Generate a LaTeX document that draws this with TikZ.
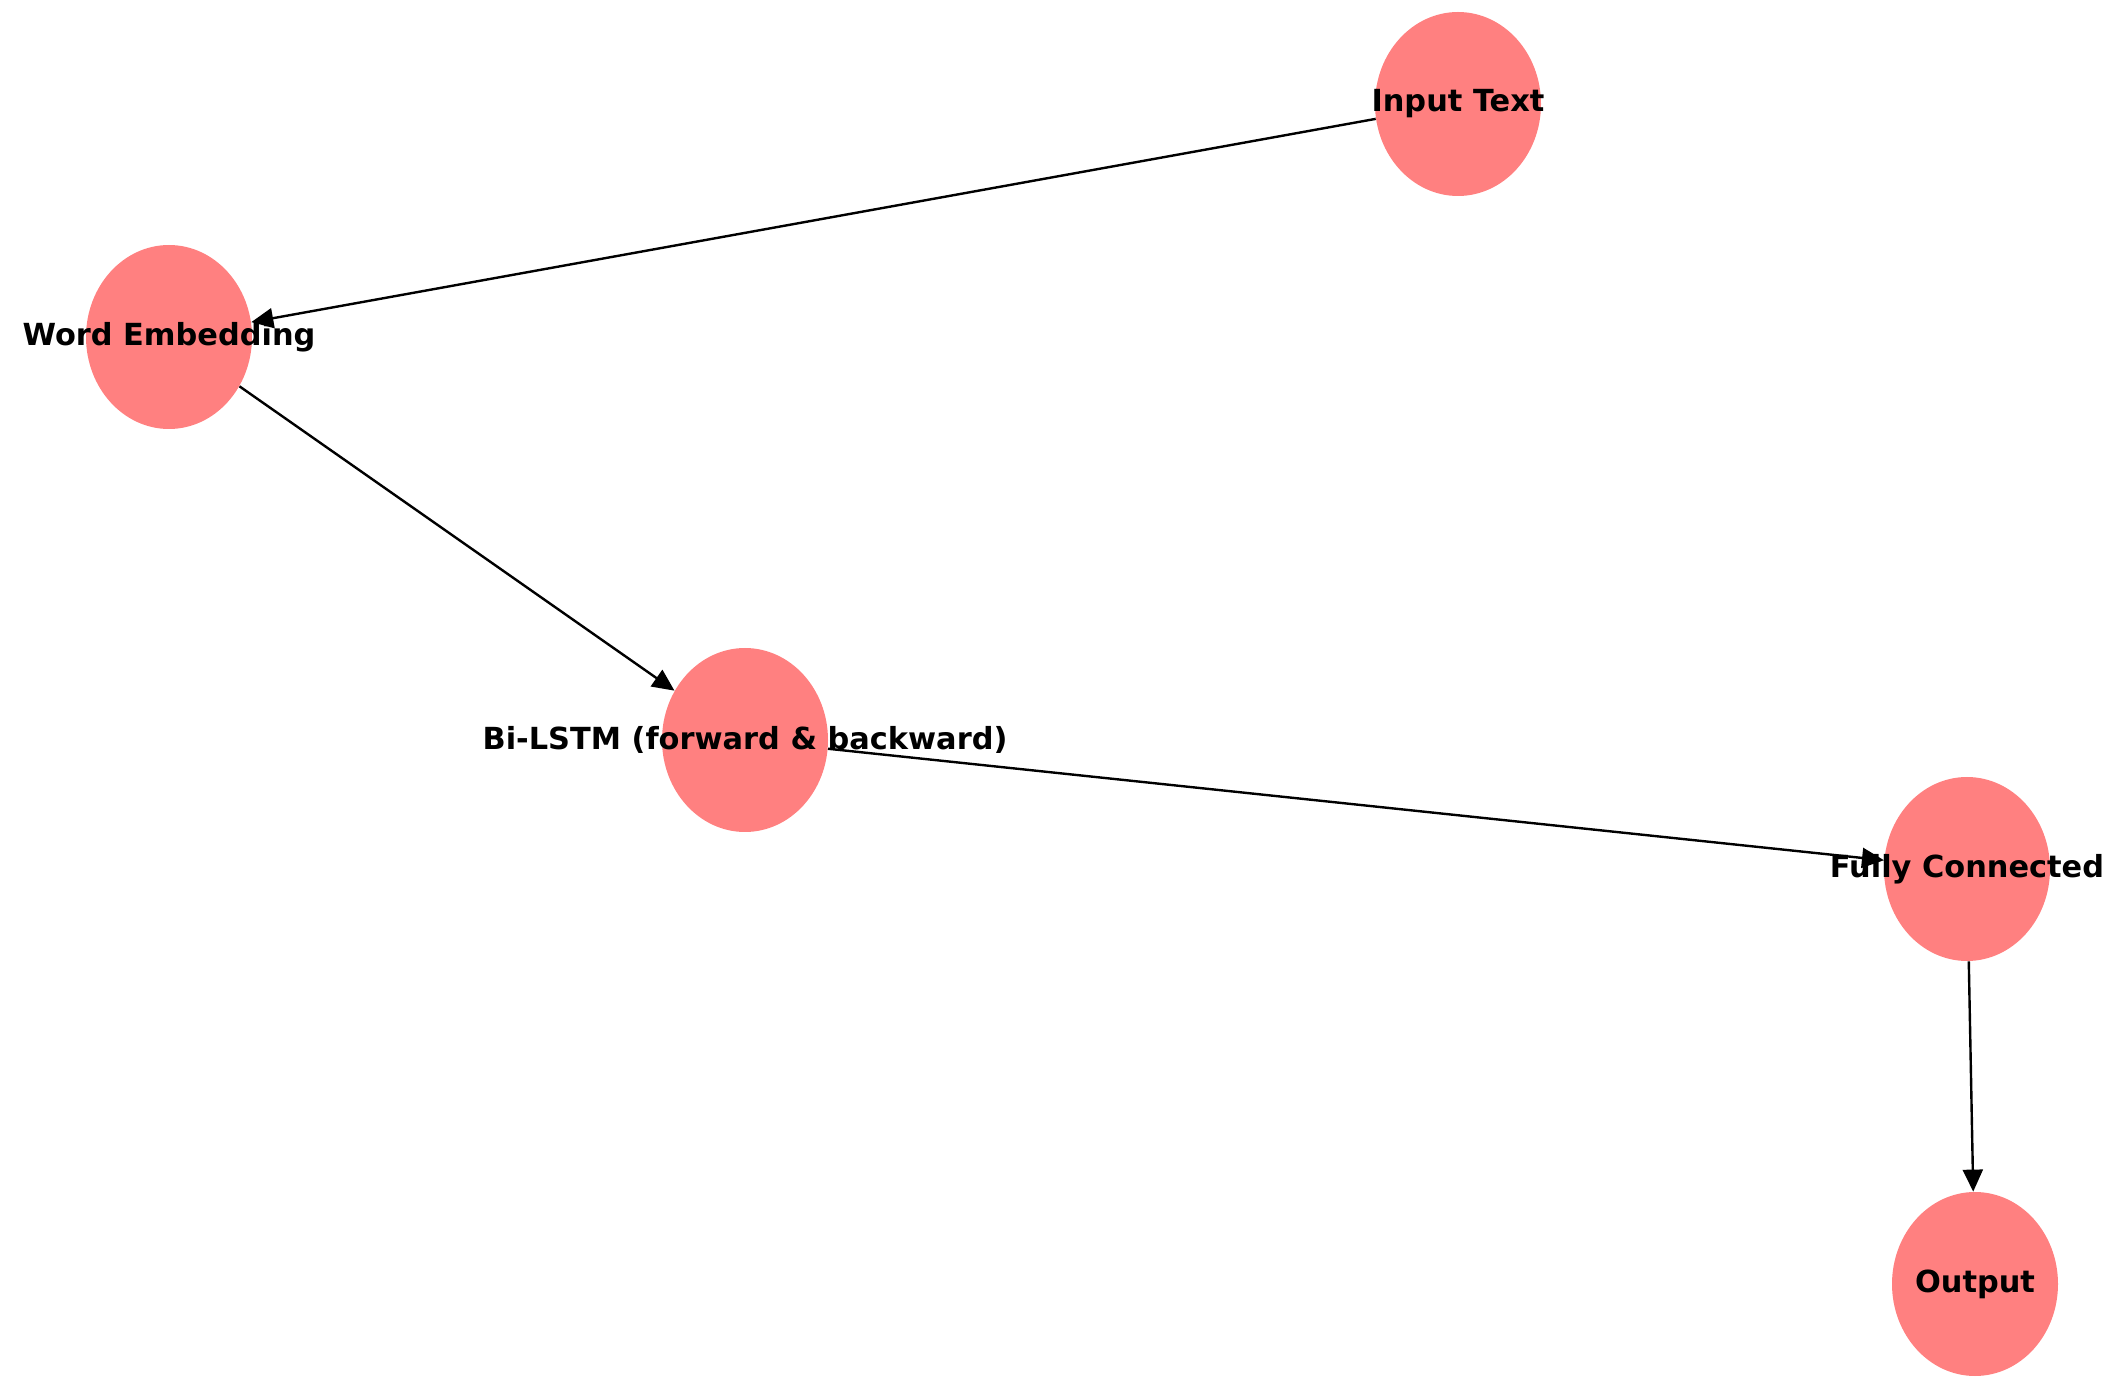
\documentclass[tikz,border=0pt]{standalone}
\usepackage{fontspec}
\setmainfont{DejaVu Sans}
\usetikzlibrary{arrows.meta,shapes.geometric}
\definecolor{nodefill}{RGB}{255,128,128}
\begin{document}
\begin{tikzpicture}[x=0.5pt,y=-0.5pt,
  ell/.style={ellipse,fill=nodefill,draw=none,minimum width=83pt,minimum height=92pt,inner sep=0pt},
  lab/.style={font=\fontsize{15.2}{17}\selectfont\bfseries,text=black,inner sep=0pt},
  edge/.style={-{Triangle[length=11pt,width=10pt]},line width=1.2pt,black}]
\useasboundingbox (0,0) rectangle (2117,1395);
\node[ell] (in) at (1458,104) {};
\node[ell] (we) at (169,337) {};
\node[ell] (bl) at (745,740) {};
\node[ell] (fc) at (1967,869) {};
\node[ell] (out) at (1975,1284) {};
\draw[edge] (in) -- (we);
\draw[edge] (we) -- (bl);
\draw[edge] (bl) -- (fc);
\draw[edge] (fc) -- (out);
\node[lab] (tin) at (in) {Input Text};
\node[lab] (twe) at (we) {Word Embedding};
\node[lab] (tbl) at (bl) {Bi-LSTM (forward \& backward)};
\node[lab] (tfc) at (fc) {Fully Connected};
\node[lab] (tout) at (out) {Output};
\end{tikzpicture}
\end{document}
